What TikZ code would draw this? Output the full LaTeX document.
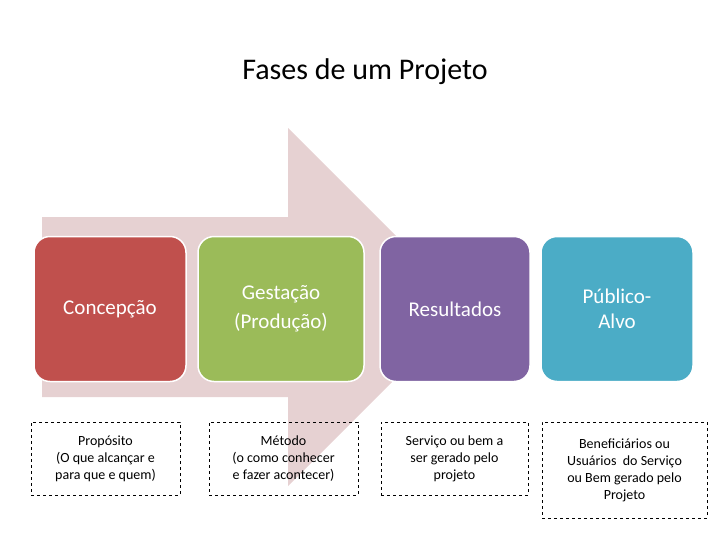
\documentclass[tikz,border=0pt]{standalone}
\usepackage{fontspec}
\setmainfont{Carlito}
\definecolor{arr}{HTML}{E6D1D2}
\definecolor{cred}{HTML}{C0504D}
\definecolor{cgreen}{HTML}{9BBB59}
\definecolor{cpurp}{HTML}{8064A2}
\definecolor{cteal}{HTML}{4BACC6}
\begin{document}
\begin{tikzpicture}[x=1pt,y=-1pt,
  phase/.style={rounded corners=16pt,draw=white,line width=1.5pt,text=white,font=\fontsize{21}{25}\selectfont,align=center,inner sep=0pt},
  note/.style={draw,dashed,line width=0.9pt,align=center,font=\fontsize{14}{17}\selectfont,inner sep=0pt}]
\useasboundingbox (0,0) rectangle (728,546);
\node (title) at (365,72) {\fontsize{30}{36}\selectfont Fases de um Projeto};
\fill[arr] (42,217) -- (288,217) -- (288,128) -- (467,307) -- (288,486) -- (288,397) -- (42,397) -- cycle;
\node[phase,fill=cred,minimum width=152pt,minimum height=145pt] (c) at (110,309) {Concepção};
\node[phase,fill=cgreen,minimum width=166pt,minimum height=145pt] (g) at (281,309) {Gestação\\[4pt](Produção)};
\node[phase,fill=cpurp,minimum width=150pt,minimum height=145pt] (r) at (455,309) {Resultados};
\node[phase,fill=cteal,minimum width=152pt,minimum height=145pt] (p) at (617,309) {Público-\\Alvo};
\node[note,minimum width=149pt,minimum height=73pt] (n1) at (105.5,458.5) {Propósito\\(O que alcançar e\\para que e quem)};
\node[note,minimum width=149pt,minimum height=73pt] (n2) at (283.5,458.5) {Método\\(o como conhecer\\e fazer acontecer)};
\node[note,minimum width=147pt,minimum height=73pt] (n3) at (454.5,458.5) {Serviço ou bem a\\ser gerado pelo\\projeto};
\node[note,minimum width=165pt,minimum height=96pt] (n4) at (624.5,470) {Beneficiários ou\\Usuários\ \ do Serviço\\ou Bem gerado pelo\\Projeto};
\end{tikzpicture}
\end{document}
